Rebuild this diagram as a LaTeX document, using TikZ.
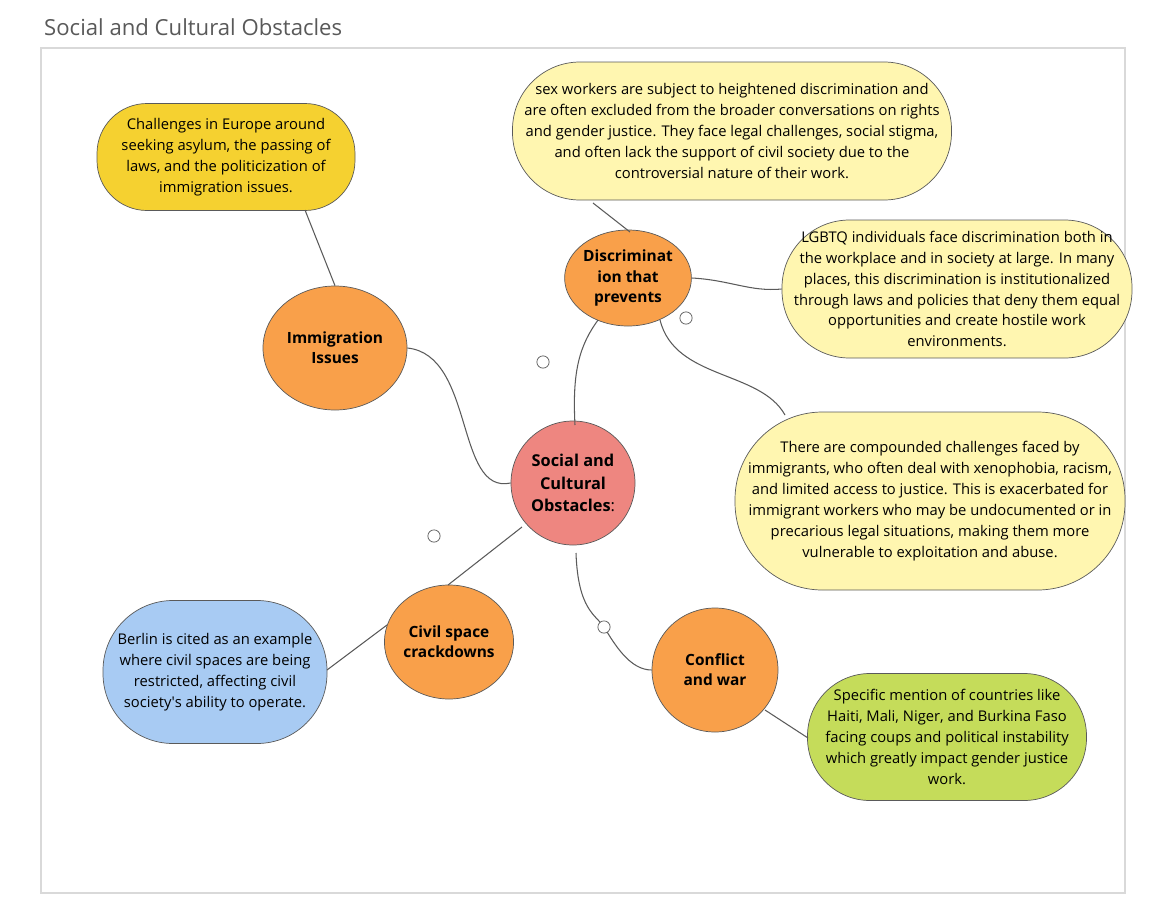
\documentclass[tikz,border=0pt]{standalone}
\usepackage{fontspec}
\setmainfont{Open Sans}
\usetikzlibrary{positioning,shapes.geometric}
\definecolor{mmorange}{RGB}{249,160,74}
\definecolor{mmred}{RGB}{238,134,128}
\definecolor{mmgold}{RGB}{245,209,48}
\definecolor{mmpale}{RGB}{255,246,176}
\definecolor{mmblue}{RGB}{168,203,243}
\definecolor{mmgreen}{RGB}{197,220,90}
\definecolor{mmline}{RGB}{90,90,90}
\tikzset{
  topic/.style={ellipse,draw=mmline,fill=mmorange,font=\fontsize{8.8}{11.5}\selectfont\bfseries,align=center,inner sep=0pt},
  note/.style={draw=mmline,fill=mmpale,rounded corners=#1,align=center,inner sep=0pt,font=\fontsize{8.4}{11.9}\selectfont},
  link/.style={draw=mmline,line width=0.6pt},
  knob/.style={circle,draw=mmline,fill=white,minimum size=7pt,inner sep=0pt},
}
\begin{document}
\begin{tikzpicture}[x=0.02cm,y=-0.02cm]
  \useasboundingbox (0,0) rectangle (1160,913);
  \node [anchor=west,text=black!65,font=\fontsize{12.6}{14}\selectfont] (title) at (38,27) {Social and Cultural Obstacles};
  \draw [black!15,line width=0.8pt] (41,48) rectangle (1125,893);

  \node [circle,draw=mmline,fill=mmred,minimum size=124*0.02cm,align=center,inner sep=0pt,font=\fontsize{9.3}{13}\selectfont] (core) at (573,483) {\textbf{Social and}\\\textbf{Cultural}\\\textbf{Obstacles}:};

  \node [topic,minimum width=144*0.02cm,minimum height=124*0.02cm] (immi) at (335,348) {Immigration\\Issues};
  \node [topic,minimum width=124*0.02cm,minimum height=96*0.02cm] (disc) at (628,278) {Discriminat\\ion that\\prevents};
  \node [topic,minimum width=128*0.02cm,minimum height=114*0.02cm] (civil) at (449,642) {Civil space\\crackdowns};
  \node [topic,minimum width=126*0.02cm,minimum height=124*0.02cm] (war) at (715,670) {Conflict\\and war};

  \node [note=1cm,fill=mmgold,minimum width=258*0.02cm,minimum height=107*0.02cm] (europe) at (226,157) {Challenges in Europe around\\seeking asylum, the passing of\\laws, and the politicization of\\immigration issues.};
  \node [note=1.35cm,minimum width=439*0.02cm,minimum height=138*0.02cm] (sex) at (732,131) {sex workers are subject to heightened discrimination and\\are often excluded from the broader conversations on rights\\and gender justice. They face legal challenges, social stigma,\\and often lack the support of civil society due to the\\controversial nature of their work.};
  \node [note=1.35cm,minimum width=350*0.02cm,minimum height=138*0.02cm] (lgbtq) at (957,289) {LGBTQ individuals face discrimination both in\\the workplace and in society at large. In many\\places, this discrimination is institutionalized\\through laws and policies that deny them equal\\opportunities and create hostile work\\environments.};
  \node [note=1.75cm,minimum width=390*0.02cm,minimum height=178*0.02cm] (migr) at (930,501) {There are compounded challenges faced by\\immigrants, who often deal with xenophobia, racism,\\and limited access to justice. This is exacerbated for\\immigrant workers who may be undocumented or in\\precarious legal situations, making them more\\vulnerable to exploitation and abuse.};
  \node [note=1.4cm,fill=mmblue,minimum width=224*0.02cm,minimum height=143*0.02cm] (berlin) at (215,672) {Berlin is cited as an example\\where civil spaces are being\\restricted, affecting civil\\society\textquotesingle s ability to operate.};
  \node [note=1.25cm,fill=mmgreen,minimum width=279*0.02cm,minimum height=127*0.02cm] (coup) at (947,737) {Specific mention of countries like\\Haiti, Mali, Niger, and Burkina Faso\\facing coups and political instability\\which greatly impact gender justice\\work.};

  % connectors
  \draw [link] (core.west) .. controls (455,495) and (475,355) .. (immi.east);
  \draw [link] (immi.north) -- (305,210);
  \draw [link] (575,425) .. controls (572,370) and (580,345) .. (598,320);
  \draw [link] (630,232) -- (593,203);
  \draw [link] (disc.east) .. controls (730,280) and (750,292) .. (lgbtq.west);
  \draw [link] (660,320) .. controls (675,380) and (760,370) .. (785,415);
  \draw [link] (522,527) -- (448,585);
  \draw [link] (387,625) -- (327,670);
  \draw [link] (576,553) .. controls (578,610) and (596,615) .. (604,627) .. controls (615,645) and (630,670) .. (war.west);
  \draw [link] (765,710) -- (808,738);

  % collapse knobs
  \node [knob] (k1) at (543,362) {};
  \node [knob] (k2) at (686,318) {};
  \node [knob] (k3) at (434,536) {};
  \node [knob] (k4) at (604,627) {};
\end{tikzpicture}
\end{document}
